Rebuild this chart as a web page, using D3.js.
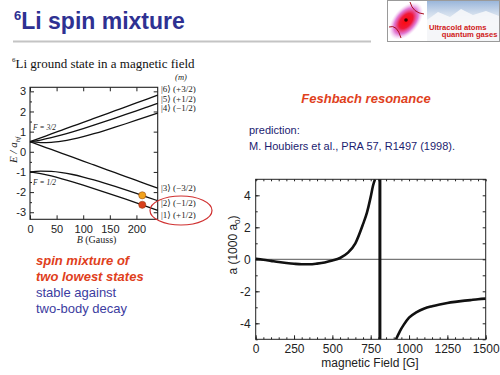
<!DOCTYPE html>
<html><head><meta charset="utf-8">
<script src="https://cdn.jsdelivr.net/npm/d3@7"></script>
<style>
html,body{margin:0;padding:0;background:#fff;}
svg{display:block;}
text{font-family:"Liberation Sans",Arial,Helvetica,sans-serif;}
.serif{font-family:"Liberation Serif","Times New Roman","DejaVu Serif",serif;}
</style></head>
<body>
<svg id="c" width="500" height="375"></svg>
<script>
// ---------- Data: 6Li ground-state energies (E / a_hf) vs B (Gauss) ----------
const bField = [0,20,40,60,80,100,120,140,160,180,200,220,240];
const state6 = [0.5,0.692,0.885,1.077,1.269,1.462,1.654,1.846,2.038,2.231,2.423,2.615,2.808];
const state5 = [0.5,0.584,0.700,0.838,0.991,1.153,1.322,1.496,1.673,1.853,2.035,2.219,2.404];
const state4 = [0.5,0.459,0.470,0.529,0.627,0.753,0.898,1.054,1.220,1.391,1.566,1.745,1.926];
const state3 = [0.5,0.308,0.115,-0.077,-0.269,-0.462,-0.654,-0.846,-1.038,-1.231,-1.423,-1.615,-1.808];
const state2 = [-1,-0.959,-0.970,-1.029,-1.127,-1.253,-1.398,-1.554,-1.720,-1.891,-2.066,-2.245,-2.426];
const state1 = [-1,-1.084,-1.200,-1.338,-1.491,-1.653,-1.822,-1.996,-2.173,-2.353,-2.535,-2.719,-2.904];
const stateLabels = ["|6⟩ (+3/2)","|5⟩ (+1/2)","|4⟩ (−1/2)","|3⟩ (−3/2)","|2⟩ (−1/2)","|1⟩ (+1/2)"];
const markerB = [211, 211];
const markerE = [-2.16, -2.63];
const markerColors = ["#f0a21e", "#d8401c"];
const leftXTicks = [0,50,100,150,200];
const leftYTicks = [-3,-2,-1,0,1,2,3];

// ---------- Data: Feshbach resonance, scattering length a (1000 a0) vs B (G) ----------
const lowB = [0,50,100,150,200,250,300,350,400,450,500,550,600,650,700,725,750,765,778];
const lowA = [0.03,-0.03,-0.1,-0.17,-0.23,-0.28,-0.31,-0.31,-0.27,-0.2,-0.08,0.08,0.4,1.0,2.2,2.9,3.9,4.6,5.0];
const highB = [915,940,965,1000,1050,1100,1150,1200,1250,1300,1350,1400,1450,1500];
const highA = [-5.0,-4.5,-4.1,-3.65,-3.3,-3.07,-2.93,-2.82,-2.73,-2.66,-2.6,-2.55,-2.5,-2.46];
const resonanceB = 810;
const rightXTicks = [0,250,500,750,1000,1250,1500];
const rightYTicks = [-4,-2,0,2,4];

const svg = d3.select("#c");

// ---------- Header ----------
const title = svg.append("text").attr("x",14).attr("y",29)
  .attr("fill","#2e3192").attr("font-weight","bold").attr("font-size",23);
title.append("tspan").attr("font-size",13).attr("dy",-9).text("6");
title.append("tspan").attr("dy",9).text("Li spin mixture");
svg.append("line").attr("x1",13).attr("x2",371).attr("y1",41.5).attr("y2",41.5)
  .attr("stroke","#c4c4c4").attr("stroke-width",2);

// logo
const defs = svg.append("defs");
const rg = defs.append("radialGradient").attr("id","blob");
rg.append("stop").attr("offset","0%").attr("stop-color","#ff0808");
rg.append("stop").attr("offset","40%").attr("stop-color","#f01838");
rg.append("stop").attr("offset","70%").attr("stop-color","#d850c8").attr("stop-opacity",0.75);
rg.append("stop").attr("offset","100%").attr("stop-color","#f0c0f0").attr("stop-opacity",0);
const sky = defs.append("linearGradient").attr("id","sky").attr("x1",0).attr("x2",0).attr("y1",0).attr("y2",1);
sky.append("stop").attr("offset","0%").attr("stop-color","#9ab6da");
sky.append("stop").attr("offset","30%").attr("stop-color","#cfdcec");
sky.append("stop").attr("offset","55%").attr("stop-color","#eef2f5");
sky.append("stop").attr("offset","100%").attr("stop-color","#e2e5e8");
svg.append("rect").attr("x",387.5).attr("y",0.5).attr("width",112).attr("height",41)
  .attr("fill","#fff").attr("stroke","#9a9a9a");
svg.append("rect").attr("x",427).attr("y",1).attr("width",72).attr("height",40).attr("fill","url(#sky)");
svg.append("path").attr("d","M427,20 L438,12 L450,17 L461,9 L473,15 L486,11 L499,16 L499,41 L427,41 Z")
  .attr("fill","#f6f7f9").attr("opacity",0.9);
svg.append("ellipse").attr("cx",406).attr("cy",21).attr("rx",22).attr("ry",13).attr("fill","url(#blob)")
  .attr("transform","rotate(-50 406 21)");
svg.append("path").attr("d","M389,27 Q397,24 401,38").attr("fill","none").attr("stroke","#a81020").attr("stroke-width",1);
svg.append("path").attr("d","M410,2 Q413,13 424,14").attr("fill","none").attr("stroke","#a81020").attr("stroke-width",1);
svg.append("circle").attr("cx",406).attr("cy",20).attr("r",1.8).attr("fill","#400000");
svg.append("text").attr("x",429).attr("y",29.5).attr("fill","#d02020").attr("font-weight","bold")
  .attr("font-size",7.6).text("Ultracold atoms");
svg.append("text").attr("x",497.5).attr("y",37).attr("text-anchor","end").attr("fill","#d02020")
  .attr("font-weight","bold").attr("font-size",7.6).text("quantum gases");

// ---------- Left chart ----------
const lx = d3.scaleLinear().domain([0,240]).range([30,157.7]);
const ly = d3.scaleLinear().domain([-3.35,3.2]).range([219.3,87.3]);
const lt = svg.append("text").attr("class","serif").attr("x",12).attr("y",68).attr("font-size",13).attr("fill","#111");
lt.append("tspan").attr("font-size",7).attr("dy",-6).text("6");
lt.append("tspan").attr("dy",6).text("Li ground state in a magnetic field");

const lg = svg.append("g");
lg.append("rect").attr("x",lx(0)).attr("y",ly(3.2)).attr("width",lx(240)-lx(0)).attr("height",ly(-3.35)-ly(3.2))
  .attr("fill","none").attr("stroke","#222").attr("stroke-width",1.1);
const lxAxisB = d3.axisBottom(lx).tickValues(leftXTicks).tickSizeInner(-4).tickSizeOuter(0).tickPadding(6);
const gxb = lg.append("g").attr("transform",`translate(0,${ly(-3.35)})`).call(lxAxisB);
const gxt = lg.append("g").attr("transform",`translate(0,${ly(3.2)})`)
  .call(d3.axisTop(lx).tickValues(leftXTicks).tickSizeInner(-4).tickSizeOuter(0).tickFormat(""));
const gyl = lg.append("g").attr("transform",`translate(${lx(0)},0)`)
  .call(d3.axisLeft(ly).tickValues(leftYTicks).tickSizeInner(-4).tickSizeOuter(0).tickPadding(4).tickFormat(d=>d<0?"-"+Math.abs(d):d));
const gyl2 = lg.append("g").attr("transform",`translate(${lx(0)},0)`)
  .call(d3.axisLeft(ly).tickValues([-2.5,-1.5,-0.5,0.5,1.5,2.5]).tickSizeInner(-2).tickSizeOuter(0).tickFormat(""));
const gyr = lg.append("g").attr("transform",`translate(${lx(240)},0)`)
  .call(d3.axisRight(ly).tickValues(leftYTicks).tickSizeInner(-4).tickSizeOuter(0).tickFormat(""));
[gxb,gxt,gyl,gyl2,gyr].forEach(g=>{g.select(".domain").remove();g.selectAll("line").attr("stroke","#222");
  g.selectAll("text").attr("font-size",11).attr("fill","#222").attr("font-family","'Liberation Sans',Arial,sans-serif");});

const lline = d3.line().x(d=>lx(d[0])).y(d=>ly(d[1])).curve(d3.curveMonotoneX);
[state6,state5,state4,state3,state2,state1].forEach(s=>{
  lg.append("path").attr("d",lline(bField.map((b,i)=>[b,s[i]]))).attr("fill","none")
    .attr("stroke","#111").attr("stroke-width",1.3);
});
markerB.forEach((b,i)=>{
  lg.append("circle").attr("cx",lx(b)).attr("cy",ly(markerE[i])).attr("r",3.6)
    .attr("fill",markerColors[i]).attr("stroke","#8a3a10").attr("stroke-width",0.5);
});
lg.append("text").attr("class","serif").attr("x",33).attr("y",129.5).attr("font-size",7.5)
  .attr("font-style","italic").attr("fill","#222").text("F = 3/2");
lg.append("text").attr("class","serif").attr("x",33).attr("y",185).attr("font-size",7.5)
  .attr("font-style","italic").attr("fill","#222").text("F = 1/2");
// state labels
const labelY = [89,98.5,108,188,202.5,214.5];
stateLabels.forEach((t,i)=>{
  lg.append("text").attr("class","serif").attr("x",161).attr("y",labelY[i]+3).attr("font-size",9)
    .attr("fill","#222").text(t);
});
lg.append("text").attr("class","serif").attr("x",181).attr("y",80).attr("font-size",8.5)
  .attr("font-style","italic").attr("text-anchor","middle").attr("fill","#222").text("(m)");
lg.append("ellipse").attr("cx",181).attr("cy",210.5).attr("rx",31).attr("ry",14.5)
  .attr("fill","none").attr("stroke","#d03030").attr("stroke-width",1.2);
// axis titles
const eLab = lg.append("text").attr("class","serif").attr("transform","translate(17,150) rotate(-90)")
  .attr("text-anchor","middle").attr("font-size",11).attr("font-style","italic").attr("fill","#222");
eLab.append("tspan").text("E / a");
eLab.append("tspan").attr("font-size",7).attr("dy",3).text("hf");
const bLab = lg.append("text").attr("class","serif").attr("x",lx(125)).attr("y",243)
  .attr("text-anchor","middle").attr("font-size",10).attr("fill","#222");
bLab.append("tspan").attr("font-style","italic").text("B");
bLab.append("tspan").text(" (Gauss)");

// left bottom notes
svg.append("text").attr("x",36).attr("y",265).attr("font-size",13).attr("font-weight","bold")
  .attr("font-style","italic").attr("fill","#e0401c").text("spin mixture of");
svg.append("text").attr("x",36).attr("y",281).attr("font-size",13).attr("font-weight","bold")
  .attr("font-style","italic").attr("fill","#e0401c").text("two lowest states");
svg.append("text").attr("x",36).attr("y",297).attr("font-size",13).attr("fill","#3c3ca0").text("stable against");
svg.append("text").attr("x",36).attr("y",313).attr("font-size",13).attr("fill","#3c3ca0").text("two-body decay");

// ---------- Right chart ----------
svg.append("text").attr("x",366).attr("y",103).attr("text-anchor","middle").attr("font-size",13)
  .attr("font-weight","bold").attr("font-style","italic").attr("fill","#e0401c").text("Feshbach resonance");
svg.append("text").attr("x",249).attr("y",134).attr("font-size",11).attr("fill","#1c1c70").text("prediction:");
svg.append("text").attr("x",249).attr("y",150).attr("font-size",11).attr("fill","#1c1c70")
  .text("M. Houbiers et al., PRA 57, R1497 (1998).");

const rx = d3.scaleLinear().domain([0,1500]).range([255.7,485.7]);
const ry = d3.scaleLinear().domain([-5,5]).range([339.3,179.3]);
const rg2 = svg.append("g");
rg2.append("line").attr("x1",rx(0)).attr("x2",rx(1500)).attr("y1",ry(0)).attr("y2",ry(0))
  .attr("stroke","#555").attr("stroke-width",1);
const minorX = d3.range(0,1501,50);
const minorY = d3.range(-5,6,1);
const rxb = rg2.append("g").attr("transform",`translate(0,${ry(-5)})`)
  .call(d3.axisBottom(rx).tickValues(rightXTicks).tickSizeInner(-4).tickSizeOuter(0).tickPadding(5)
  .tickFormat(d3.format("d")));
const rxb2 = rg2.append("g").attr("transform",`translate(0,${ry(-5)})`)
  .call(d3.axisBottom(rx).tickValues(minorX).tickSizeInner(-2).tickSizeOuter(0).tickFormat(""));
const rxt = rg2.append("g").attr("transform",`translate(0,${ry(5)})`)
  .call(d3.axisTop(rx).tickValues(minorX).tickSizeInner(-2).tickSizeOuter(0).tickFormat(""));
const ryl = rg2.append("g").attr("transform",`translate(${rx(0)},0)`)
  .call(d3.axisLeft(ry).tickValues(rightYTicks).tickSizeInner(-4).tickSizeOuter(0).tickPadding(5)
  .tickFormat(d=>d<0?"-"+Math.abs(d):d));
const ryl2 = rg2.append("g").attr("transform",`translate(${rx(0)},0)`)
  .call(d3.axisLeft(ry).tickValues(minorY).tickSizeInner(-2).tickSizeOuter(0).tickFormat(""));
const ryr = rg2.append("g").attr("transform",`translate(${rx(1500)},0)`)
  .call(d3.axisRight(ry).tickValues(minorY).tickSizeInner(-3).tickSizeOuter(0).tickFormat(""));
[rxb,rxb2,rxt,ryl,ryl2,ryr].forEach(g=>{g.select(".domain").remove();g.selectAll("line").attr("stroke","#222");
  g.selectAll("text").attr("font-size",12).attr("fill","#222").attr("font-family","'Liberation Sans',Arial,sans-serif");});
rg2.append("rect").attr("x",rx(0)).attr("y",ry(5)).attr("width",rx(1500)-rx(0)).attr("height",ry(-5)-ry(5))
  .attr("fill","none").attr("stroke","#222").attr("stroke-width",1);
const clip = defs.append("clipPath").attr("id","rclip");
clip.append("rect").attr("x",rx(0)).attr("y",ry(5)).attr("width",rx(1500)-rx(0)).attr("height",ry(-5)-ry(5));
const rline = d3.line().x(d=>rx(d[0])).y(d=>ry(d[1])).curve(d3.curveMonotoneX);
const cg = rg2.append("g").attr("clip-path","url(#rclip)");
cg.append("path").attr("d",rline(lowB.map((b,i)=>[b,lowA[i]]))).attr("fill","none")
  .attr("stroke","#111").attr("stroke-width",2.6);
cg.append("path").attr("d",rline(highB.map((b,i)=>[b,highA[i]]))).attr("fill","none")
  .attr("stroke","#111").attr("stroke-width",2.6);
cg.append("line").attr("x1",rx(resonanceB)).attr("x2",rx(resonanceB)).attr("y1",ry(5)).attr("y2",ry(-5))
  .attr("stroke","#111").attr("stroke-width",3);
const aLab = rg2.append("text").attr("transform","translate(237,245) rotate(-90)")
  .attr("text-anchor","middle").attr("font-size",12).attr("fill","#222");
aLab.append("tspan").text("a  (1000 a");
aLab.append("tspan").attr("font-size",8).attr("dy",3).text("0");
aLab.append("tspan").attr("dy",-3).text(")");
rg2.append("text").attr("x",370).attr("y",367).attr("text-anchor","middle").attr("font-size",12)
  .attr("fill","#222").text("magnetic Field [G]");
</script>
</body></html>
